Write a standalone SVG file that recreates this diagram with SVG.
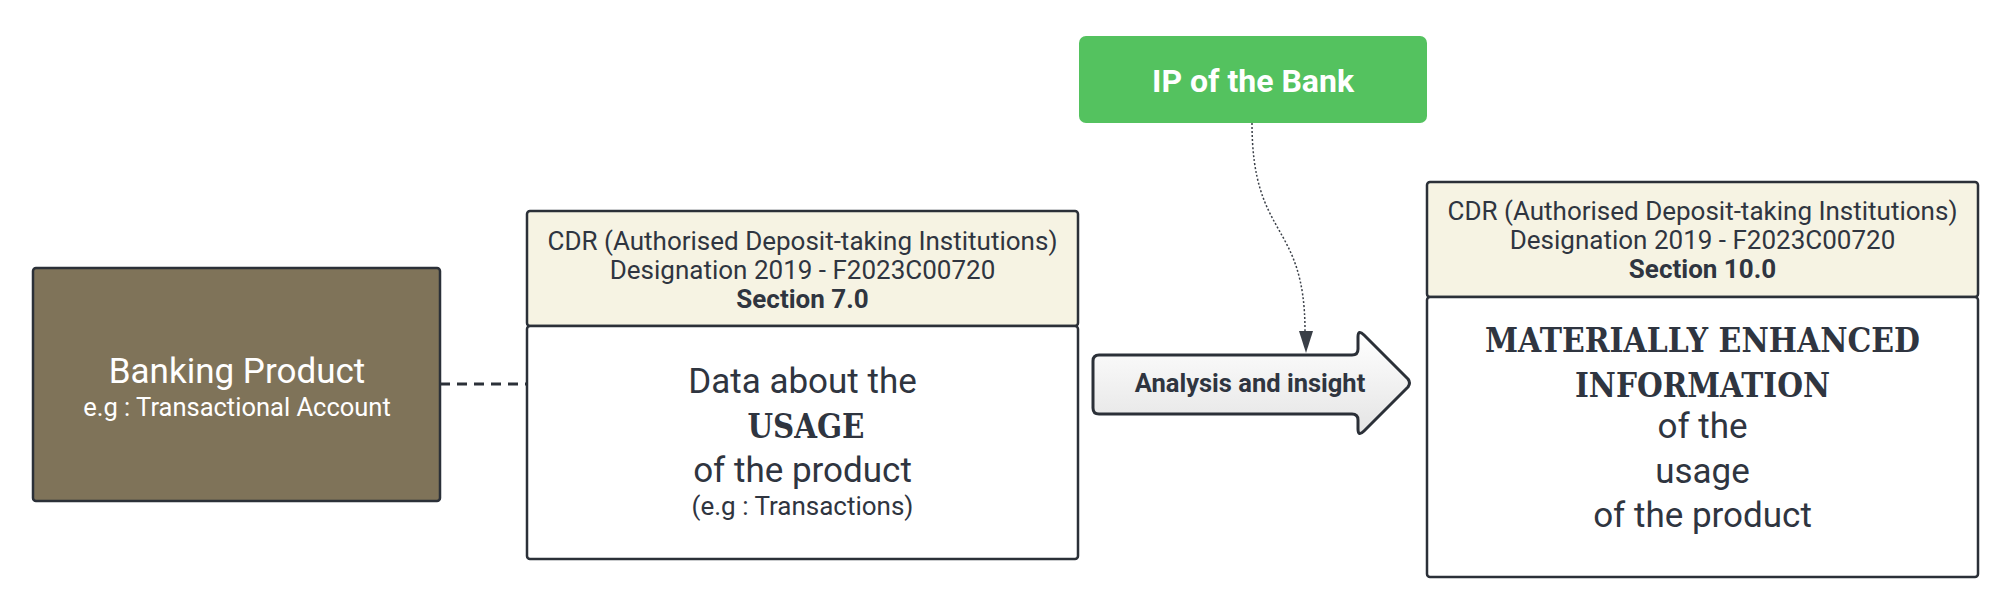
<svg xmlns="http://www.w3.org/2000/svg" width="2000" height="610" viewBox="0 0 2000 610">
<style>
.box{stroke:#2B3038;stroke-width:2.5}
.sans{font-family:Roboto,"Noto Sans","Liberation Sans",sans-serif;fill:#2F3540;text-anchor:middle}
.slab{font-family:"DejaVu Serif","Liberation Serif",serif;font-weight:bold;fill:#2F3540;text-anchor:middle}
.hdr{font-size:26px}
.b{font-weight:bold}
.big{font-size:35px}
</style>
<defs>
<linearGradient id="ag" x1="0" y1="0" x2="0" y2="1">
<stop offset="0" stop-color="#ffffff"/>
<stop offset="1" stop-color="#e4e4e4"/>
</linearGradient>
</defs>
<rect width="2000" height="610" fill="#ffffff"/>

<g id="connectors">
<line x1="440" y1="384" x2="527" y2="384" stroke="#2B3038" stroke-width="3" stroke-dasharray="10 7"/>
<path d="M1252,123 C1252,240 1305,220 1305,331" fill="none" stroke="#3A3F47" stroke-width="1.5" stroke-dasharray="2 2"/>
<path d="M1306,331 L1313,331 L1306,353 L1299,331 Z" fill="#3A3F47"/>
</g>

<g id="banking-product">
<rect class="box" x="33" y="268" width="407" height="233" rx="3" fill="#7F7359"/>
<text class="sans big" x="237" y="383" style="fill:#ffffff">Banking Product</text>
<text class="sans" x="237" y="416" font-size="25.5" style="fill:#ffffff">e.g : Transactional Account</text>
</g>

<g id="cdr-section-7">
<rect class="box" x="527" y="211" width="551" height="115" rx="3" fill="#F6F3E3"/>
<rect class="box" x="527" y="326" width="551" height="233" rx="3" fill="#ffffff"/>
<text class="sans hdr" x="802.5" y="250">CDR (Authorised Deposit-taking Institutions)</text>
<text class="sans hdr" x="802.5" y="279">Designation 2019 - F2023C00720</text>
<text class="sans hdr b" x="802.5" y="308">Section 7.0</text>
<text class="sans big" x="802.5" y="393">Data about the</text>
<text class="slab" x="806" y="438" font-size="33" textLength="117" lengthAdjust="spacingAndGlyphs">USAGE</text>
<text class="sans big" x="802.5" y="482">of the product</text>
<text class="sans hdr" x="802.5" y="515">(e.g : Transactions)</text>
</g>

<g id="ip-of-bank">
<rect x="1079" y="36" width="348" height="87" rx="7" fill="#54C25F"/>
<text class="sans b" x="1253" y="92" font-size="32" style="fill:#ffffff">IP of the Bank</text>
</g>

<g id="analysis-arrow">
<path d="M1099,355 L1352,355 Q1358,355 1358,349 L1358,337 Q1358,329 1364,335 L1408,379 Q1411,383 1408,387 L1364,431 Q1358,437 1358,429 L1358,420 Q1358,414 1352,414 L1099,414 Q1093,414 1093,408 L1093,361 Q1093,355 1099,355 Z" fill="url(#ag)" stroke="#2B3038" stroke-width="3" stroke-linejoin="round"/>
<text class="sans b" x="1250" y="392" font-size="25.5">Analysis and insight</text>
</g>

<g id="cdr-section-10">
<rect class="box" x="1427" y="182" width="551" height="115" rx="3" fill="#F6F3E3"/>
<rect class="box" x="1427" y="297" width="551" height="280" rx="3" fill="#ffffff"/>
<text class="sans hdr" x="1702.5" y="220">CDR (Authorised Deposit-taking Institutions)</text>
<text class="sans hdr" x="1702.5" y="249">Designation 2019 - F2023C00720</text>
<text class="sans hdr b" x="1702.5" y="278">Section 10.0</text>
<text class="slab" x="1702.5" y="352" font-size="34" textLength="435" lengthAdjust="spacingAndGlyphs">MATERIALLY ENHANCED</text>
<text class="slab" x="1702.5" y="397" font-size="34" textLength="255" lengthAdjust="spacingAndGlyphs">INFORMATION</text>
<text class="sans big" x="1702.5" y="438">of the</text>
<text class="sans big" x="1702.5" y="483">usage</text>
<text class="sans big" x="1702.5" y="527">of the product</text>
</g>
</svg>
